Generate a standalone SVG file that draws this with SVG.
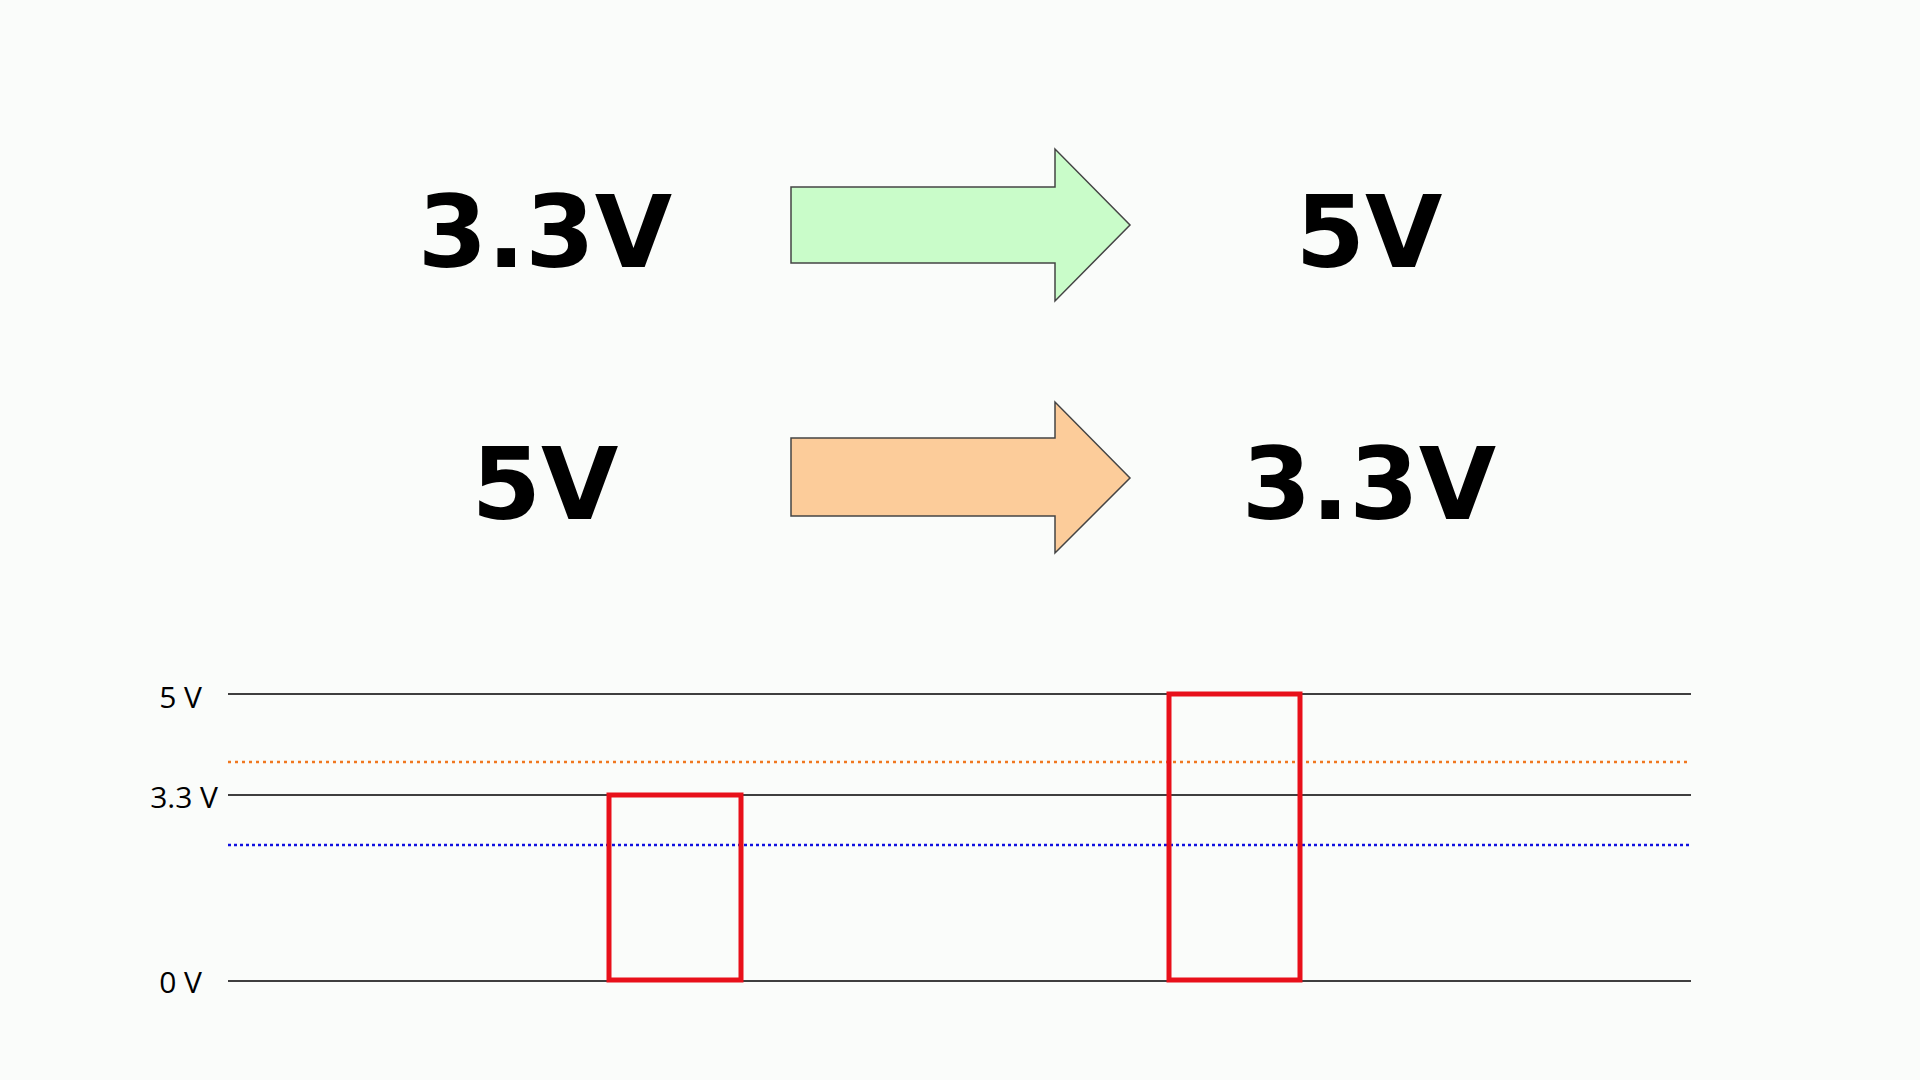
<svg xmlns="http://www.w3.org/2000/svg" width="1920" height="1080" viewBox="0 0 1920 1080">
<style>
.big{font-family:"DejaVu Sans",sans-serif;font-weight:bold;font-size:100px;fill:#000;text-anchor:middle}
.lbl{font-family:"Open Sans","DejaVu Sans",sans-serif;font-size:30px;fill:#000;text-anchor:end}
.axis{stroke:#000;stroke-width:1.6}
.arrow{stroke:#444;stroke-width:1.5}
.pulse{fill:none;stroke:#e8101a;stroke-width:5}
</style>
<rect width="1920" height="1080" fill="#fafcfa"/>
<g id="t1"><text class="big" x="545" y="267">3.3V</text></g>
<g id="t2"><text class="big" x="1369" y="267">5V</text></g>
<g id="t3"><text class="big" x="545" y="519">5V</text></g>
<g id="t4"><text class="big" x="1369" y="519">3.3V</text></g>
<g id="arrow1"><polygon class="arrow" fill="#c9fcc9" points="791,187 1055,187 1055,149 1130,225 1055,301 1055,263 791,263"/></g>
<g id="arrow2"><polygon class="arrow" fill="#fccc9a" points="791,438 1055,438 1055,402 1130,478 1055,553 1055,516 791,516"/></g>
<g id="chart">
<line class="axis" x1="228" y1="694" x2="1691" y2="694"/>
<line class="axis" x1="228" y1="795" x2="1691" y2="795"/>
<line class="axis" x1="228" y1="981" x2="1691" y2="981"/>
<line x1="228" y1="762" x2="1691" y2="762" stroke="#f07820" stroke-width="2.5" stroke-dasharray="3,4"/>
<line x1="228" y1="845" x2="1691" y2="845" stroke="#1010e0" stroke-width="2.5" stroke-dasharray="3,3"/>
<text class="lbl" x="202" y="708">5 V</text>
<text class="lbl" x="218" y="808">3.3 V</text>
<text class="lbl" x="202" y="993">0 V</text>
<rect class="pulse" x="609" y="795" width="132" height="185"/>
<rect class="pulse" x="1169" y="694" width="131" height="286"/>
</g>
</svg>
